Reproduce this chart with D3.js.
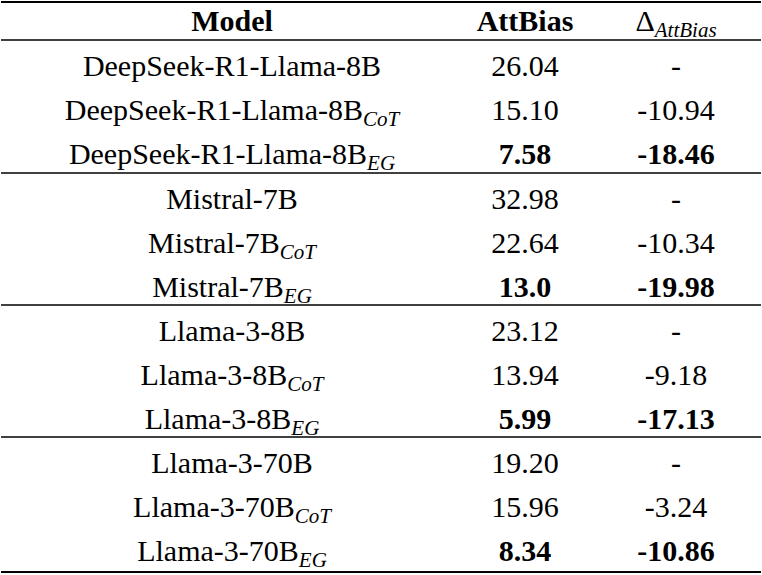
<!DOCTYPE html><html><head><meta charset="utf-8"><script src="https://cdn.jsdelivr.net/npm/d3@7"></script>
<style>body{margin:0;background:#fff} text{font-family:"Liberation Serif","DejaVu Serif",serif}</style></head><body><svg id="c" width="762" height="575"></svg>
<script>
const models=["DeepSeek-R1-Llama-8B","Mistral-7B","Llama-3-8B","Llama-3-70B"];
const variants=["","CoT","EG"];
const attBias=[["26.04","15.10","7.58"],["32.98","22.64","13.0"],["23.12","13.94","5.99"],["19.20","15.96","8.34"]];
const delta=[["-","-10.94","-18.46"],["-","-10.34","-19.98"],["-","-9.18","-17.13"],["-","-3.24","-10.86"]];
const headers=["Model","AttBias","Δ"];
const svg=d3.select("#c");
const FS=30;
const colX=[232,525,676];
const lines=[2,40,173,305,437,572];
const y=d3.scaleLinear().domain([0,3]).range([0,132.5]);
svg.selectAll("line.h").data(lines).join("line").attr("x1",1).attr("x2",761)
 .attr("y1",d=>d).attr("y2",d=>d).attr("stroke","#000").attr("stroke-width",(d,i)=>i==0||i==5?2:1.5);
const hy=31;
svg.append("text").attr("x",colX[0]).attr("y",hy).attr("text-anchor","middle").attr("font-size",FS).attr("font-weight","bold").text(headers[0]);
svg.append("text").attr("x",colX[1]).attr("y",hy).attr("text-anchor","middle").attr("font-size",FS).attr("font-weight","bold").text(headers[1]);
const dh=svg.append("text").attr("x",colX[2]).attr("y",hy).attr("text-anchor","middle").attr("font-size",FS);
dh.append("tspan").text(headers[2]);
dh.append("tspan").attr("dy",6).attr("font-size",21).attr("font-style","italic").text("AttBias");
models.forEach((m,g)=>{
  variants.forEach((v,r)=>{
    const yy=lines[g+1]+y(r)+36;
    const t=svg.append("text").attr("x",colX[0]).attr("y",yy).attr("text-anchor","middle").attr("font-size",FS);
    t.append("tspan").text(m);
    if(v) t.append("tspan").attr("dy",6).attr("font-size",21).attr("font-style","italic").text(v);
    const bold=r==2?"bold":"normal";
    svg.append("text").attr("x",colX[1]).attr("y",yy).attr("text-anchor","middle").attr("font-size",FS).attr("font-weight",bold).text(attBias[g][r]);
    svg.append("text").attr("x",colX[2]).attr("y",yy).attr("text-anchor","middle").attr("font-size",FS).attr("font-weight",bold).text(delta[g][r]);
  });
});
</script></body></html>
